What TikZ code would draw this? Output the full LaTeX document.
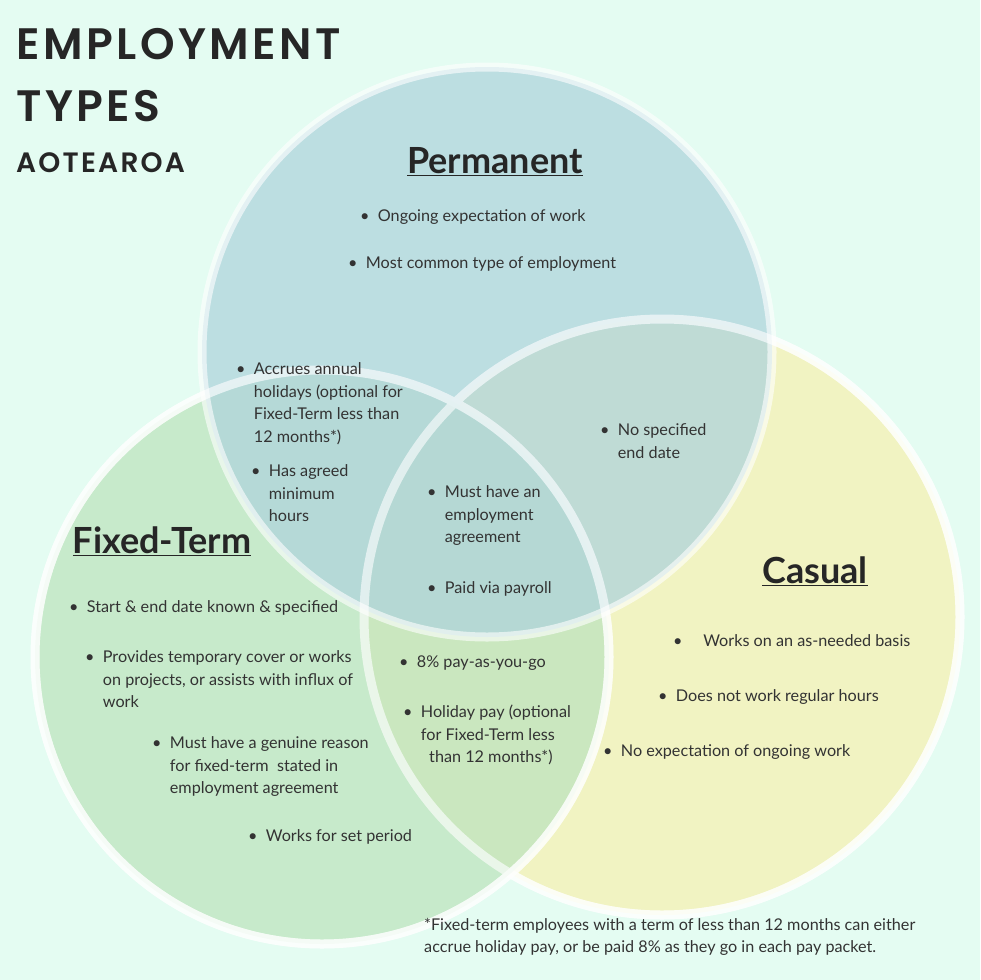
\documentclass[tikz,border=0pt]{standalone}
\usepackage{fontspec}
\setmainfont{Lato}
\newfontfamily\titlefont[LetterSpace=8]{Poppins SemiBold}
\begin{document}
\begin{tikzpicture}[x=1pt,y=-1pt,
  circ/.style={draw=white,draw opacity=0.6,line width=9pt,fill opacity=0.75},
  txt/.style={font=\fontsize{16.2}{22.5}\selectfont,text=black!80,align=left,anchor=north west,inner sep=0pt},
  head/.style={font=\fontsize{36}{40}\selectfont\bfseries,text=black!85,inner sep=0pt},
  ttl/.style={anchor=north west,inner sep=0pt,text=black!85}]
\fill[fill={rgb,255:red,228;green,252;blue,242}] (0,0) rectangle (980,980);
\useasboundingbox (0,0) rectangle (980,980);
\fill[circ,fill={rgb,255:red,246;green,240;blue,178}] (662,617) circle (298);
\fill[circ,fill={rgb,255:red,190;green,228;blue,190}] (322,657) circle (287);
\fill[circ,fill={rgb,255:red,175;green,212;blue,220}] (487,352) circle (285);
\draw[draw=white,draw opacity=0.6,line width=9pt] (662,617) circle (298) (322,657) circle (287);
\node[ttl] (t1) at (16,28) {\titlefont\fontsize{44}{48}\selectfont EMPLOYMENT};
\node[ttl] (t2) at (16,90) {\titlefont\fontsize{44}{48}\selectfont TYPES};
\node[ttl] (t3) at (16,152) {\titlefont\fontsize{28}{30}\selectfont AOTEAROA};
\node[head] (perm) at (495,162) {\underline{Permanent}};
\node[head] (fixed) at (162,541) {\underline{Fixed-Term}};
\node[head] (cas) at (815,571) {\underline{Casual}};
\node[txt] (p1) at (360,209) {\textbullet\ \ Ongoing expectation of work};
\node[txt] (p2) at (348,256) {\textbullet\ \ Most common type of employment};
\node[txt] (pf1) at (236,359) {\textbullet\ \ \begin{tabular}[t]{@{}l@{}}Accrues annual\\holidays (optional for\\Fixed-Term less than\\12 months*)\end{tabular}};
\node[txt] (pf2) at (251,461) {\textbullet\ \ \begin{tabular}[t]{@{}l@{}}Has agreed\\minimum\\hours\end{tabular}};
\node[txt] (pc1) at (600,420) {\textbullet\ \ \begin{tabular}[t]{@{}l@{}}No specified\\end date\end{tabular}};
\node[txt] (all1) at (427,482) {\textbullet\ \ \begin{tabular}[t]{@{}l@{}}Must have an\\employment\\agreement\end{tabular}};
\node[txt] (all2) at (427,581) {\textbullet\ \ Paid via payroll};
\node[txt] (fc1) at (399,656) {\textbullet\ \ 8\% pay-as-you-go};
\node[txt] (fc2) at (403,702) {\textbullet\ \ \begin{tabular}[t]{@{}l@{}}Holiday pay (optional\\for Fixed-Term less\\\ \ than 12 months*)\end{tabular}};
\node[txt] (f1) at (69,600) {\textbullet\ \ Start \& end date known \& specified};
\node[txt] (f2) at (85,647) {\textbullet\ \ \begin{tabular}[t]{@{}l@{}}Provides temporary cover or works\\on projects, or assists with influx of\\work\end{tabular}};
\node[txt] (f3) at (152,733) {\textbullet\ \ \begin{tabular}[t]{@{}l@{}}Must have a genuine reason\\for fixed-term\ \ stated in\\employment agreement\end{tabular}};
\node[txt] (f4) at (248,829) {\textbullet\ \ Works for set period};
\node[txt] (c1) at (673,634) {\textbullet\ \ \ \ \ Works on an as-needed basis};
\node[txt] (c2) at (658,689) {\textbullet\ \ Does not work regular hours};
\node[txt] (c3) at (603,744) {\textbullet\ \ No expectation of ongoing work};
\node[txt] (note) at (424,918) {*Fixed-term employees with a term of less than 12 months can either\\accrue holiday pay, or be paid 8\% as they go in each pay packet.};
\end{tikzpicture}
\end{document}
